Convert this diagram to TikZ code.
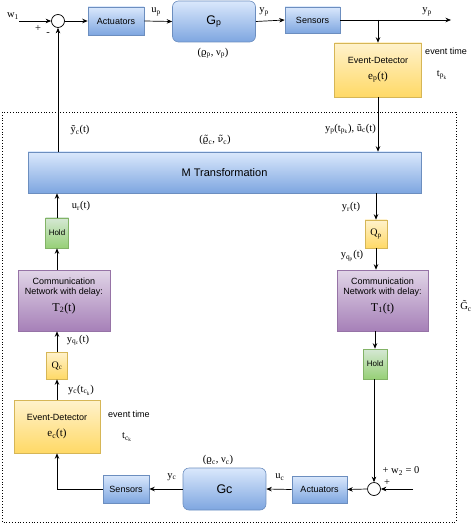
\documentclass[tikz,border=0pt]{standalone}
\usepackage{fontspec}
\setmainfont{Liberation Serif}
\setsansfont{Liberation Sans}
\newfontfamily\dvs{DejaVu Serif}
\usetikzlibrary{arrows.meta}
\definecolor{bT}{HTML}{DAE8FC}
\definecolor{bB}{HTML}{7EA6E0}
\definecolor{bD}{HTML}{6C8EBF}
\definecolor{yT}{HTML}{FFF2CC}
\definecolor{yB}{HTML}{FFD966}
\definecolor{yD}{HTML}{D6B656}
\definecolor{gT}{HTML}{D5E8D4}
\definecolor{gB}{HTML}{97D077}
\definecolor{gD}{HTML}{82B366}
\definecolor{pT}{HTML}{E1D5E7}
\definecolor{pB}{HTML}{A680B8}
\definecolor{pD}{HTML}{9673A6}
\newcommand{\vrh}{{\dvs\fontsize{9.5}{11}\selectfont ϱ}}
\newcommand{\vrht}{{\dvs\fontsize{9.5}{11}\selectfont ϱ̃}}
\newcommand{\nut}{{\dvs\fontsize{9.5}{11}\selectfont ν̃}}
\begin{document}
\begin{tikzpicture}[x=1pt,y=-1pt,
  box/.style={draw, line width=0.6pt, inner sep=1pt, align=center, font=\sffamily\fontsize{9}{10.5}\selectfont},
  bluebox/.style={box, top color=bT, bottom color=bB, draw=bD},
  yelbox/.style={box, top color=yT, bottom color=yB, draw=yD},
  grnbox/.style={box, top color=gT, bottom color=gB, draw=gD},
  purbox/.style={box, top color=pT, bottom color=pB, draw=pD},
  plant/.style={bluebox, rounded corners=6pt, font=\sffamily\fontsize{12.5}{14}\selectfont},
  sumpt/.style={circle, draw, line width=0.7pt, minimum size=13pt, inner sep=0pt},
  lab/.style={inner sep=0pt, font=\fontsize{10.5}{12}\selectfont},
  slab/.style={inner sep=0pt, font=\sffamily\fontsize{9}{10}\selectfont},
  arr/.style={line width=0.7pt, -{Stealth[length=5.5pt,width=4.5pt]}},
  ln/.style={line width=0.7pt}]
\useasboundingbox (0,0) rectangle (474,526);

% dotted frame
\draw[dotted, line width=0.8pt] (2,112) rectangle (456,522);

% top loop
\node[lab] (w1) at (13,16) {w\textsubscript{1}};
\node[sumpt] (s1) at (58,21) {};
\node[lab] (plus1) at (38,29) {+};
\node[lab] (minus1) at (48,34) {-};
\node[bluebox, minimum width=56pt, minimum height=28pt] (act1) at (116,21) {Actuators};
\node[plant, minimum width=83pt, minimum height=41pt] (Gp) at (214,21.5) {G\textsubscript{p}};
\node[lab] (rhop) at (213,53) {(\vrh\textsubscript{p}, ν\textsubscript{p})};
\node[bluebox, minimum width=55pt, minimum height=26pt] (sen1) at (312.5,20) {Sensors};
\coordinate (yout) at (451,20);
\node[yelbox, minimum width=87pt, minimum height=54pt] (edp) at (378,70) {Event-Detector\\[5pt]{\rmfamily\fontsize{11}{13}\selectfont e\textsubscript{p}(t)}};
\node[slab] (evp) at (446,51) {event time};
\node[lab] (tpk) at (442,75) {t\textsubscript{p\textsubscript{k}}};

\node[lab] (up) at (156,12) {u\textsubscript{p}};
\node[lab] (yp1) at (264,12) {y\textsubscript{p}};
\node[lab] (yp2) at (427,12) {y\textsubscript{p}};

\draw[arr] (w1.east |- s1.west) -- (s1.west);
\draw[arr] (s1.east) -- (act1.west);
\draw[arr] (act1.east) -- (Gp.west);
\draw[arr] (Gp.east) -- (sen1.west);
\draw[arr] (sen1.east) -- (yout);
\draw[arr] (sen1.east -| edp) -- (edp.north);

% M transformation
\node[bluebox, minimum width=393pt, minimum height=41pt, font=\sffamily\fontsize{11}{13}\selectfont] (M) at (224.5,172.5) {M Transformation};
\node[lab] (ytc) at (80,130) {\~{y}\textsubscript{c}(t)};
\node[lab] (rhotc) at (215,140) {(\vrht\textsubscript{c}, \nut\textsubscript{c})};
\node[lab, anchor=east] (ypk) at (376,129) {y\textsubscript{p}(t\textsubscript{p\textsubscript{k}}), \~{u}\textsubscript{c}(t)};
\draw[arr] (edp.south) -- (M.north -| edp);
\draw[arr] (M.north -| s1) -- (s1.south);

% left column
\node[grnbox, minimum width=23pt, minimum height=30pt, font=\sffamily\fontsize{8}{9}\selectfont] (Hc) at (57,233) {Hold};
\node[purbox, minimum width=92pt, minimum height=61pt] (C2) at (64,300.5) {Communication\\Network with delay:\\[6pt]{\rmfamily\fontsize{12}{14}\selectfont T\textsubscript{2}(t)}\\[2pt]};
\node[yelbox, minimum width=21pt, minimum height=27pt, font=\rmfamily\fontsize{10}{11}\selectfont] (Qc) at (57,365.5) {Q\textsubscript{c}};
\node[yelbox, minimum width=86pt, minimum height=53pt] (edc) at (57,426.5) {Event-Detector\\[6pt]{\rmfamily\fontsize{11}{13}\selectfont e\textsubscript{c}(t)}};
\node[lab] (ur) at (81,206) {u\textsubscript{r}(t)};
\node[lab] (yqc) at (78,340) {y\textsubscript{q\textsubscript{c}}(t)};
\node[lab] (yctc) at (81,390) {y\textsubscript{c}(t\textsubscript{c\textsubscript{k}})};
\node[slab] (evc) at (129,414) {event time};
\node[lab] (tck) at (127,437) {t\textsubscript{c\textsubscript{k}}};

\draw[arr] (Hc.north) -- (M.south -| Hc);
\draw[arr] (C2.north -| Hc) -- (Hc.south);
\draw[arr] (Qc.north) -- (C2.south -| Qc);
\draw[arr] (edc.north -| Qc) -- (Qc.south);

% right column
\node[yelbox, minimum width=22pt, minimum height=28pt, font=\rmfamily\fontsize{10}{11}\selectfont] (Qp) at (376,234) {Q\textsubscript{p}};
\node[purbox, minimum width=91pt, minimum height=61pt] (C1) at (382.5,300.5) {Communication\\Network with delay:\\[6pt]{\rmfamily\fontsize{12}{14}\selectfont T\textsubscript{1}(t)}\\[2pt]};
\node[grnbox, minimum width=24pt, minimum height=30pt, font=\sffamily\fontsize{8}{9}\selectfont] (Hp) at (375,364) {Hold};
\node[lab] (yr) at (351,207) {y\textsubscript{r}(t)};
\node[lab] (yqp) at (352,256) {y\textsubscript{q\textsubscript{p}}(t)};
\node[lab] (Gtc) at (466,306) {G̃\textsubscript{c}};

\draw[arr] (M.south -| Qp) -- (Qp.north);
\draw[arr] (Qp.south) -- (C1.north -| Qp);
\draw[arr] (C1.south -| Hp) -- (Hp.north);

% bottom loop
\node[sumpt] (s2) at (374,489) {};
\node[bluebox, minimum width=55pt, minimum height=27pt] (act2) at (319.5,489.5) {Actuators};
\node[plant, minimum width=83pt, minimum height=42pt] (Gc) at (224.5,489) {Gc};
\node[bluebox, minimum width=46pt, minimum height=28pt] (sen2) at (126,489) {Sensors};
\node[lab] (rhoc) at (218,460) {(\vrh\textsubscript{c}, ν\textsubscript{c})};
\node[lab] (yc) at (172,477) {y\textsubscript{c}};
\node[lab] (uc) at (280,477) {u\textsubscript{c}};
\node[lab] (w2) at (401,471) {+ w\textsubscript{2} = 0};
\node[lab] (plus2) at (387,483) {+};
\coordinate (w2in) at (413,489);

\draw[arr] (Hp.south -| s2) -- (s2.north);
\draw[arr] (w2in) -- (s2.east);
\draw[arr] (s2.west) -- (act2.east);
\draw[arr] (act2.west) -- (Gc.east);
\draw[arr] (Gc.west) -- (sen2.east);
\draw[arr] (sen2.west) -| (edc.south);
\end{tikzpicture}
\end{document}
